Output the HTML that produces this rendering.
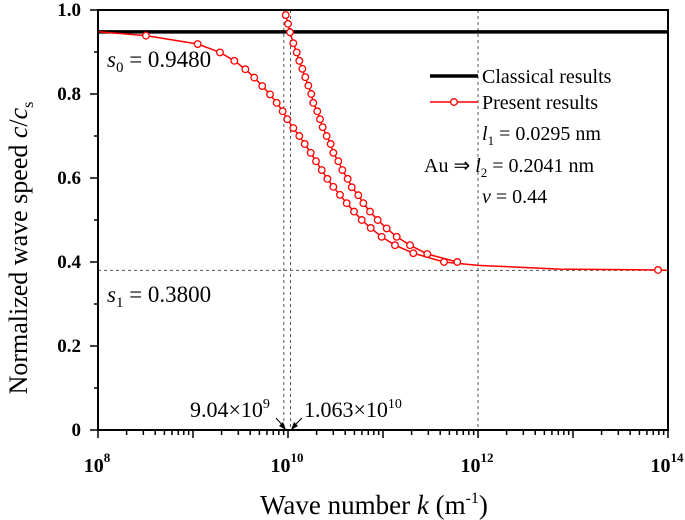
<!DOCTYPE html>
<html><head><meta charset="utf-8"><style>
body{margin:0;background:#fff}
svg{display:block;font-family:"Liberation Serif",serif}
</style></head><body>
<svg id="chart" width="685" height="520" viewBox="0 0 685 520">
<g id="grid"></g>
<g id="series"></g>
<g id="axes"></g>
<g font-size="23">
 <text x="107" y="67"><tspan font-style="italic">s</tspan><tspan font-size="15" dy="5">0</tspan><tspan dy="-5"> = 0.9480</tspan></text>
 <text x="107" y="302"><tspan font-style="italic">s</tspan><tspan font-size="15" dy="5">1</tspan><tspan dy="-5"> = 0.3800</tspan></text>
 <text x="190" y="417" font-size="22">9.04×10<tspan font-size="14" dy="-9">9</tspan></text>
 <text x="304" y="417" font-size="22">1.063×10<tspan font-size="14" dy="-9">10</tspan></text>
 <line x1="276" y1="418" x2="285" y2="428" stroke="#000" stroke-width="1"/>
 <polygon points="286,430 279,426 283,422" fill="#000"/>
 <line x1="302" y1="418" x2="292" y2="428" stroke="#000" stroke-width="1"/>
 <polygon points="291,430 294,422 298,426" fill="#000"/>
</g>
<g font-size="20">
 <line x1="430" y1="76" x2="478" y2="76" stroke="#000" stroke-width="3.5"/>
 <text x="482" y="83">Classical results</text>
 <line x1="430" y1="102" x2="478" y2="102" stroke="#f00" stroke-width="1.5"/>
 <circle cx="454" cy="102" r="3.3" fill="#fff" stroke="#f00" stroke-width="1.3"/>
 <text x="482" y="109">Present results</text>
 <text x="482" y="140"><tspan font-style="italic">l</tspan><tspan font-size="13" dy="5">1</tspan><tspan dy="-5"> = 0.0295 nm</tspan></text>
 <text x="424" y="172">Au ⇒ <tspan font-style="italic">l</tspan><tspan font-size="13" dy="5">2</tspan><tspan dy="-5"> = 0.2041 nm</tspan></text>
 <text x="482" y="203"><tspan font-style="italic">ν</tspan> = 0.44</text>
</g>
<text x="374" y="514" text-anchor="middle" font-size="27">Wave number <tspan font-style="italic">k</tspan> (m<tspan font-size="16" dy="-11">-1</tspan><tspan dy="11">)</tspan></text>
<text transform="translate(27,248) rotate(-90)" text-anchor="middle" font-size="26">Normalized wave speed <tspan font-style="italic">c</tspan>/<tspan font-style="italic">c</tspan><tspan font-size="16" dy="6">s</tspan></text>
</svg>
<script>
const upperLogK=[9.976,10.000,10.021,10.056,10.092,10.119,10.151,10.182,10.214,10.245,10.266,10.308,10.337,10.365,10.407,10.449,10.477,10.529,10.572,10.628,10.671,10.740,10.793,10.863,10.944,11.039,11.144,11.284,11.466,11.782];
const upperC=[0.988,0.967,0.947,0.921,0.899,0.879,0.860,0.840,0.820,0.800,0.779,0.759,0.740,0.721,0.700,0.681,0.660,0.640,0.619,0.598,0.578,0.559,0.540,0.520,0.500,0.480,0.460,0.440,0.419,0.400];
const lowerLogK=[8.0,8.505,9.049,9.284,9.435,9.551,9.645,9.729,9.811,9.881,9.944,9.993,10.056,10.119,10.176,10.239,10.295,10.355,10.414,10.477,10.547,10.618,10.695,10.776,10.871,10.986,11.126,11.319,11.642,12.0,12.86,13.895,14.0];
const lowerC=[0.948,0.939,0.919,0.899,0.879,0.859,0.839,0.819,0.799,0.779,0.759,0.740,0.719,0.700,0.681,0.660,0.640,0.619,0.598,0.579,0.560,0.540,0.520,0.500,0.481,0.460,0.440,0.421,0.400,0.392,0.383,0.381,0.380];
const lowerMarked=[false,true,true,true,true,true,true,true,true,true,true,true,true,true,true,true,true,true,true,true,true,true,true,true,true,true,true,true,true,false,false,true,false];
const classicalC=0.948, s1=0.38;
const refLogK=[Math.log10(9.04e9),Math.log10(1.063e10),12];
const yTicks=[0,0.2,0.4,0.6,0.8,1.0];
const yTickLabels=["0","0.2","0.4","0.6","0.8","1.0"];
const xTicks=[8,10,12,14];
const X0=98,X1=668,Y0=430,Y1=10;
const xs=l=>X0+(l-8)/6*(X1-X0);
const ys=c=>Y0-c*(Y0-Y1);
const NS="http://www.w3.org/2000/svg";
function mk(tag,attrs,parent){const e=document.createElementNS(NS,tag);for(const k in attrs)e.setAttribute(k,attrs[k]);parent.appendChild(e);return e;}
const grid=document.getElementById('grid'),series=document.getElementById('series'),axes=document.getElementById('axes');
refLogK.forEach((l,i)=>{const e=mk('line',{x1:xs(l),x2:xs(l),y1:Y1,y2:Y0,stroke:'#555','stroke-width':1,'stroke-dasharray':'3,3'},grid);

});
{const e=mk('line',{x1:X0,x2:X1,y1:ys(s1),y2:ys(s1),stroke:'#555','stroke-width':1,'stroke-dasharray':'3,3'},grid);

}
{const e=mk('line',{x1:X0,x2:X1,y1:ys(classicalC),y2:ys(classicalC),stroke:'#000','stroke-width':3.5},series);

}
function drawSeries(lk,cv,marked,name){
 const pts=lk.map((l,i)=>xs(l).toFixed(1)+','+ys(cv[i]).toFixed(1)).join(' ');
 const p=mk('polyline',{points:pts,fill:'none',stroke:'#f00','stroke-width':1.5},series);
 
 
 lk.forEach((l,i)=>{if(marked&&!marked[i])return;
  const c=mk('circle',{cx:xs(l),cy:ys(cv[i]),r:3.3,fill:'#fff',stroke:'#f00','stroke-width':1.3},series);
  
  });
}
drawSeries(lowerLogK,lowerC,lowerMarked,'present-lower');
drawSeries(upperLogK,upperC,null,'present-upper');
{const r=mk('rect',{x:X0,y:Y1,width:X1-X0,height:Y0-Y1,fill:'none',stroke:'#000','stroke-width':2},axes);

}
for(let v=0;v<=1.0001;v+=0.1){const major=Math.round(v*10)%2===0;
 const t=mk('line',{x1:X0,x2:X0-(major?8:4),y1:ys(v),y2:ys(v),stroke:'#000','stroke-width':1.5},axes);
 
 }
yTicks.forEach((v,i)=>{const t=mk('text',{x:81,y:ys(v)+6,'text-anchor':'end','font-size':19,'font-weight':'bold'},axes);t.textContent=yTickLabels[i];
 
 });
for(let d=8;d<14;d++){for(let m=1;m<10;m++){const l=d+Math.log10(m);const major=m===1;
 const t=mk('line',{x1:xs(l),x2:xs(l),y1:Y0,y2:Y0+(major?8:5),stroke:'#000','stroke-width':1.5},axes);
 
 }}
{const t=mk('line',{x1:X1,x2:X1,y1:Y0,y2:Y0+8,stroke:'#000','stroke-width':1.5},axes);

}
xTicks.forEach(l=>{const t=mk('text',{x:xs(l)-1,y:472,'text-anchor':'middle','font-size':20,'font-weight':'bold'},axes);
 t.innerHTML='10<tspan font-size="13" dy="-10">'+l+'</tspan>';
 
 });
</script>
</body></html>
